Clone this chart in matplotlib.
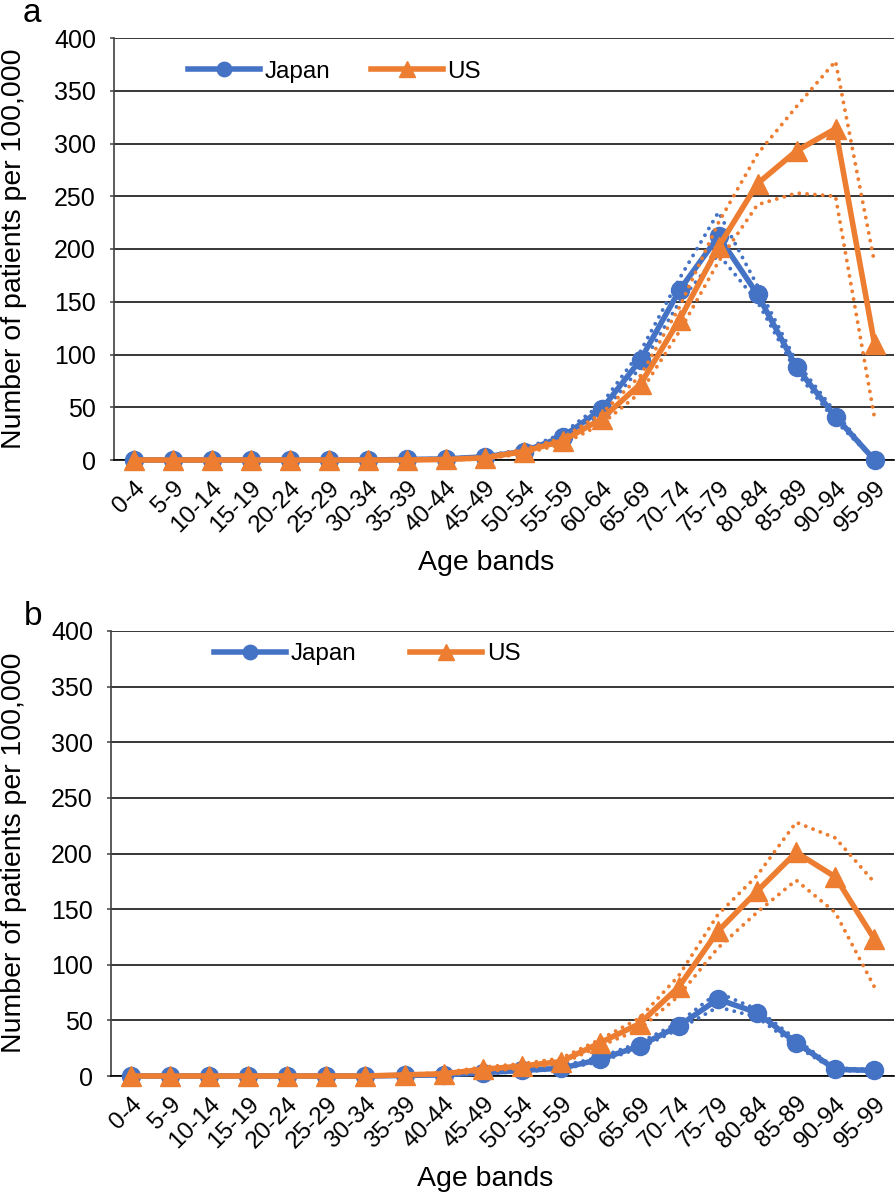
import numpy as np
import matplotlib.pyplot as plt

plt.rcParams['font.family'] = ['Liberation Sans', 'DejaVu Sans']

bands = ['0-4', '5-9', '10-14', '15-19', '20-24', '25-29', '30-34', '35-39',
         '40-44', '45-49', '50-54', '55-59', '60-64', '65-69', '70-74',
         '75-79', '80-84', '85-89', '90-94', '95-99']

# panel a
jp_a = [0, 0, 0, 0, 0, 0, 0, 0.5, 1, 3, 8, 22, 48, 95, 161, 212, 157, 88, 41, 0]
jp_a_hi = [0, 0, 0, 0, 0, 0, 0, 1, 1.5, 4, 10, 25, 53, 103, 172, 235, 165, 93, 45, 0]
jp_a_lo = [0, 0, 0, 0, 0, 0, 0, 0, 0.5, 2, 6, 19, 43, 88, 150, 195, 150, 83, 37, 0]
us_a = [0, 0, 0, 0, 0, 0, 0, 0, 0.5, 2, 8, 18, 39, 72, 133, 202, 262, 293, 314, 110]
us_a_hi = [0, 0, 0, 0, 0, 0, 0, 0.5, 1, 3, 10, 21, 44, 80, 145, 225, 290, 335, 378, 187]
us_a_lo = [0, 0, 0, 0, 0, 0, 0, 0, 0, 1, 6, 15, 34, 64, 122, 188, 242, 253, 250, 40]

# panel b
jp_b = [0, 0, 0, 0, 0, 0, 0, 0.5, 1, 3, 5, 7, 15, 27, 45, 69, 57, 30, 6, 5]
jp_b_hi = [0, 0, 0, 0, 0, 0, 0, 1, 1.5, 4, 6, 9, 17, 30, 48, 75, 60, 33, 7, 6]
jp_b_lo = [0, 0, 0, 0, 0, 0, 0, 0, 0.5, 2, 4, 6, 13, 25, 42, 62, 53, 27, 5, 4]
us_b = [0, 0, 0, 0, 0, 0, 0, 1, 2, 6, 9, 13, 30, 47, 80, 130, 166, 201, 179, 123]
us_b_hi = [0, 0, 0, 0, 0, 0, 0, 1.5, 3, 8, 11, 16, 33, 52, 90, 145, 180, 228, 214, 174]
us_b_lo = [0, 0, 0, 0, 0, 0, 0, 0.5, 1, 4, 7, 11, 27, 42, 72, 115, 147, 176, 147, 80]

BLUE = '#4472C4'
ORANGE = '#ED7D31'
W, H = 896, 1196

fig = plt.figure(figsize=(W / 100, H / 100), dpi=100)
ax1 = fig.add_axes([114 / W, 1 - 460 / H, 780 / W, 422 / H])
ax2 = fig.add_axes([111 / W, 1 - 1076 / H, 783 / W, 445 / H])

x = np.arange(len(bands))
dots = (0, (0.01, 2.0))


def draw(ax, jp, jp_hi, jp_lo, us, us_hi, us_lo, leg_xy, colsp):
    for ci in (jp_hi, jp_lo):
        ax.plot(x, ci, color=BLUE, lw=2.8, ls=dots, dash_capstyle='round',
                zorder=3, clip_on=False)
    ax.plot(x, jp, color=BLUE, lw=4, marker='o', ms=13, label='Japan',
            zorder=4, clip_on=False)
    for ci in (us_hi, us_lo):
        ax.plot(x, ci, color=ORANGE, lw=2.8, ls=dots, dash_capstyle='round',
                zorder=5, clip_on=False)
    ax.plot(x, us, color=ORANGE, lw=4, marker='^', ms=14, label='US',
            zorder=6, clip_on=False)

    ax.set_xlim(-0.5, len(bands) - 0.5)
    ax.set_ylim(0, 400)
    ax.set_yticks(range(0, 401, 50))
    ax.yaxis.grid(True, color='black', lw=1.1)
    ax.set_axisbelow(True)
    for s in ['top', 'right']:
        ax.spines[s].set_visible(False)
    ax.spines['left'].set_linewidth(1.2)
    ax.spines['left'].set_color('#404040')
    ax.spines['bottom'].set_linewidth(1.2)
    ax.tick_params(axis='y', length=3, width=1.1, color='#404040',
                   labelsize=18, pad=10)
    ax.tick_params(axis='x', length=0, labelsize=17.5, pad=12)
    ax.set_xticks(x)
    ax.set_xticklabels(bands, rotation=45, ha='right', rotation_mode='anchor')
    leg = ax.legend(loc='center left', bbox_to_anchor=leg_xy,
                    bbox_transform=fig.transFigure, ncol=2, frameon=False,
                    fontsize=17.5, handlelength=2.96, columnspacing=colsp,
                    handletextpad=0.2, borderpad=0, borderaxespad=0,
                    markerscale=0.8)
    return leg


draw(ax1, jp_a, jp_a_hi, jp_a_lo, us_a, us_a_hi, us_a_lo,
     (188 / W, 1 - 72 / H), 1.65)
draw(ax2, jp_b, jp_b_hi, jp_b_lo, us_b, us_b_hi, us_b_lo,
     (214 / W, 1 - 654 / H), 2.2)

# axis titles
fig.text(486 / W, 1 - 570 / H, 'Age bands', fontsize=20.5, ha='center', va='baseline')
fig.text(485 / W, 1 - 1186 / H, 'Age bands', fontsize=20.5, ha='center', va='baseline')
fig.text(14 / W, 1 - 249 / H, 'Number of patients per 100,000', fontsize=20.5,
         rotation=90, ha='center', va='center')
fig.text(14 / W, 1 - 853 / H, 'Number of patients per 100,000', fontsize=20.5,
         rotation=90, ha='center', va='center')

# panel letters
fig.text(32 / W, 1 - 22 / H, 'a', fontsize=24, ha='center', va='baseline')
fig.text(33 / W, 1 - 625 / H, 'b', fontsize=24, ha='center', va='baseline')

fig.savefig('out.png', dpi=100)
